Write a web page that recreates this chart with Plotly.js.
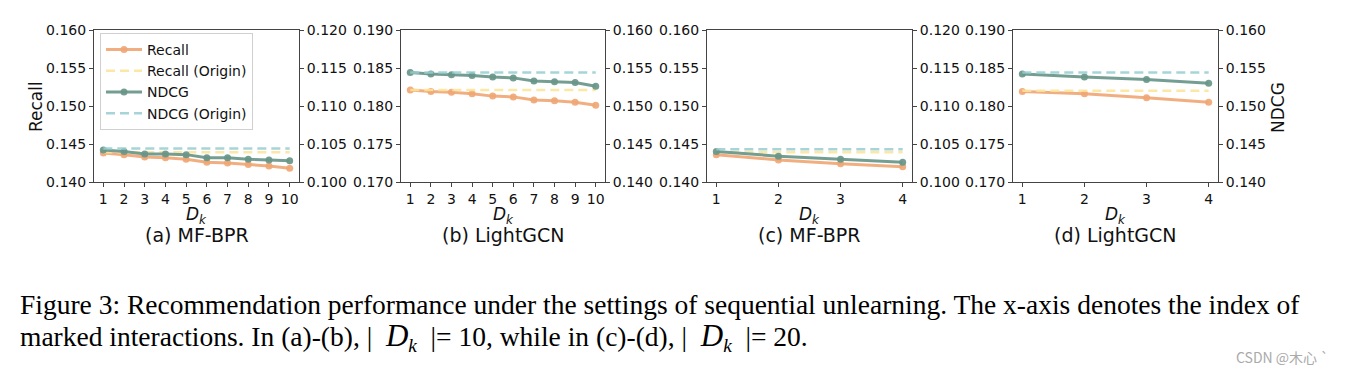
<!DOCTYPE html>
<html>
<head>
<meta charset="utf-8">
<script src="https://cdn.plot.ly/plotly-3.0.1.min.js"></script>
<style>html,body{margin:0;padding:0;background:#fff;}#chart{width:1345px;height:373px;}</style>
</head>
<body>
<div id="chart"></div>
<script>
// ---- data ----
const xTen = [1, 2, 3, 4, 5, 6, 7, 8, 9, 10];
const xFour = [1, 2, 3, 4];
const recallA = [0.1438, 0.1436, 0.1433, 0.1432, 0.1430, 0.1426, 0.1425, 0.1423, 0.1421, 0.1418];
const ndcgA   = [0.1042, 0.1040, 0.1037, 0.1037, 0.1036, 0.1032, 0.1032, 0.1030, 0.1029, 0.1028];
const recallB = [0.1821, 0.1819, 0.1818, 0.1816, 0.1813, 0.1812, 0.1808, 0.1807, 0.1805, 0.1801];
const ndcgB   = [0.1544, 0.1542, 0.1541, 0.1540, 0.1538, 0.1537, 0.1533, 0.1532, 0.1531, 0.1526];
const recallC = [0.1436, 0.1429, 0.1424, 0.1420];
const ndcgC   = [0.1040, 0.1034, 0.1030, 0.1026];
const recallD = [0.1819, 0.1816, 0.1811, 0.1805];
const ndcgD   = [0.1542, 0.1538, 0.1535, 0.1530];
const recallOrigin = [0.1439, 0.1821, 0.1439, 0.1820];
const ndcgOrigin   = [0.1044, 0.1544, 0.1043, 0.1544];
const panelTitles = ["(a) MF-BPR", "(b) LightGCN", "(c) MF-BPR", "(d) LightGCN"];
const seriesNames = ["Recall", "Recall (Origin)", "NDCG", "NDCG (Origin)"];
const recallRanges = [[0.140, 0.160], [0.170, 0.190], [0.140, 0.160], [0.170, 0.190]];
const ndcgRanges   = [[0.100, 0.120], [0.140, 0.160], [0.100, 0.120], [0.140, 0.160]];

// ---- styling ----
const W = 1345, H = 373;
const cOrange = 'rgba(240,166,115,0.9)';
const cGreen = 'rgba(105,150,137,0.92)';
const cYellow = 'rgba(252,228,150,0.85)';
const cCyan = 'rgba(150,205,210,0.85)';
const panelsPx = [[94, 299], [401, 605], [707, 912], [1013, 1218]];
const topPx = 30, botPx = 182;
const yDom = [1 - botPx / H, 1 - topPx / H];
const axisColor = '#444';
const tickFont = {family: 'DejaVu Sans', size: 14, color: '#111'};

const panelX = [xTen, xTen, xFour, xFour];
const panelRecall = [recallA, recallB, recallC, recallD];
const panelNdcg = [ndcgA, ndcgB, ndcgC, ndcgD];

const traces = [];
const layout = {
  width: W, height: H,
  margin: {l: 0, r: 0, t: 0, b: 0},
  paper_bgcolor: '#fff', plot_bgcolor: '#fff',
  font: {family: 'DejaVu Sans', color: '#111'},
  showlegend: true,
  legend: {
    x: 100 / W, y: 1 - 33 / H, xanchor: 'left', yanchor: 'top',
    bgcolor: 'rgba(255,255,255,0.9)', bordercolor: '#d0d0d0', borderwidth: 1,
    font: {family: 'DejaVu Sans', size: 14, color: '#111'},
    itemwidth: 36, tracegroupgap: 0
  },
  annotations: [],
  shapes: []
};

for (let p = 0; p < 4; p++) {
  const xs = panelX[p];
  const xName = p === 0 ? 'x' : 'x' + (p + 1);
  const yL = 'y' + (p === 0 ? '' : (2 * p + 1));
  const yR = 'y' + (2 * p + 2);
  const xKey = p === 0 ? 'xaxis' : 'xaxis' + (p + 1);
  const yLKey = 'yaxis' + (p === 0 ? '' : (2 * p + 1));
  const yRKey = 'yaxis' + (2 * p + 2);
  const n = xs.length;
  const pad = (n - 1) * 0.05;
  const legend = p === 0;

  layout[xKey] = {
    domain: [panelsPx[p][0] / W, panelsPx[p][1] / W], anchor: yL,
    range: [1 - pad, n + pad], tickvals: xs, ticktext: xs.map(String),
    showline: true, mirror: true, linecolor: axisColor, linewidth: 1,
    ticks: 'outside', ticklen: 4, tickcolor: axisColor, tickfont: tickFont,
    showgrid: false, zeroline: false, fixedrange: true
  };
  const ytv = [];
  for (let k = 0; k <= 4; k++) ytv.push(k);
  layout[yLKey] = {
    domain: yDom, anchor: xName, range: recallRanges[p],
    tickvals: ytv.map(k => recallRanges[p][0] + k * 0.005),
    ticktext: ytv.map(k => (recallRanges[p][0] + k * 0.005).toFixed(3)),
    showline: true, linecolor: axisColor, linewidth: 1,
    ticks: 'outside', ticklen: 4, tickcolor: axisColor, tickfont: tickFont,
    showgrid: false, zeroline: false, fixedrange: true
  };
  layout[yRKey] = {
    overlaying: yL, side: 'right', anchor: xName, range: ndcgRanges[p],
    tickvals: ytv.map(k => ndcgRanges[p][0] + k * 0.005),
    ticktext: ytv.map(k => (ndcgRanges[p][0] + k * 0.005).toFixed(3)),
    showline: true, linecolor: axisColor, linewidth: 1,
    ticks: 'outside', ticklen: 4, tickcolor: axisColor, tickfont: tickFont,
    showgrid: false, zeroline: false, fixedrange: true
  };

  traces.push({
    x: xs, y: panelRecall[p], xaxis: xName, yaxis: yL, type: 'scatter', mode: 'lines+markers',
    name: seriesNames[0], showlegend: legend,
    line: {color: cOrange, width: 3}, marker: {color: cOrange, size: 7}
  });
  traces.push({
    x: xs, y: xs.map(() => recallOrigin[p]), xaxis: xName, yaxis: yL, type: 'scatter', mode: 'lines',
    name: seriesNames[1], showlegend: legend,
    line: {color: cYellow, width: 2.5, dash: '9px,5px'}
  });
  traces.push({
    x: xs, y: panelNdcg[p], xaxis: xName, yaxis: yR, type: 'scatter', mode: 'lines+markers',
    name: seriesNames[2], showlegend: legend,
    line: {color: cGreen, width: 3}, marker: {color: cGreen, size: 7}
  });
  traces.push({
    x: xs, y: xs.map(() => ndcgOrigin[p]), xaxis: xName, yaxis: yR, type: 'scatter', mode: 'lines',
    name: seriesNames[3], showlegend: legend,
    line: {color: cCyan, width: 2.5, dash: '9px,5px'}
  });

  const cx = (panelsPx[p][0] + panelsPx[p][1]) / 2 / W;
  layout.annotations.push({
    xref: 'paper', yref: 'paper', x: cx, y: 1 - 215 / H, xanchor: 'center', yanchor: 'middle',
    text: '<i>D</i><sub><i>k</i></sub>', showarrow: false,
    font: {family: 'DejaVu Sans', size: 17, color: '#111'}
  });
  layout.annotations.push({
    xref: 'paper', yref: 'paper', x: cx, y: 1 - 235 / H, xanchor: 'center', yanchor: 'middle',
    text: panelTitles[p], showarrow: false,
    font: {family: 'DejaVu Sans', size: 19, color: '#111'}
  });
}

// axis titles
layout.annotations.push({
  xref: 'paper', yref: 'paper', x: 36 / W, y: 1 - 107 / H, xanchor: 'center', yanchor: 'middle',
  text: 'Recall', textangle: -90, showarrow: false,
  font: {family: 'DejaVu Sans', size: 17, color: '#111'}
});
layout.annotations.push({
  xref: 'paper', yref: 'paper', x: 1278 / W, y: 1 - 108 / H, xanchor: 'center', yanchor: 'middle',
  text: 'NDCG', textangle: -90, showarrow: false,
  font: {family: 'DejaVu Sans', size: 17, color: '#111'}
});

// figure caption
const capFont = {family: 'Liberation Serif', size: 27.5, color: '#000'};
const mathD = '<span style="font-size:31px"><i>D</i></span><sub><i>k</i></sub>';
layout.annotations.push({
  xref: 'paper', yref: 'paper', x: 18 / W, y: 1 - 304 / H, xanchor: 'left', yanchor: 'middle',
  text: 'Figure 3: Recommendation performance under the settings of sequential unlearning. The x-axis denotes the index of',
  showarrow: false, font: capFont
});
layout.annotations.push({
  xref: 'paper', yref: 'paper', x: 18 / W, y: 1 - 337 / H, xanchor: 'left', yanchor: 'middle',
  text: 'marked interactions. In (a)-(b), |&nbsp;&nbsp;' + mathD + '&nbsp;&nbsp;|=&nbsp;10, while in (c)-(d), |&nbsp;&nbsp;' + mathD + '&nbsp;&nbsp;|=&nbsp;20.',
  showarrow: false, font: capFont
});
// watermark
layout.annotations.push({
  xref: 'paper', yref: 'paper', x: 1331 / W, y: 1 - 357 / H, xanchor: 'right', yanchor: 'middle',
  text: 'CSDN @木心 `', showarrow: false,
  font: {family: 'Noto Sans CJK SC', size: 14, color: '#aaa'}
});

Plotly.newPlot('chart', traces, layout, {displayModeBar: false, staticPlot: true});
</script>
</body>
</html>
